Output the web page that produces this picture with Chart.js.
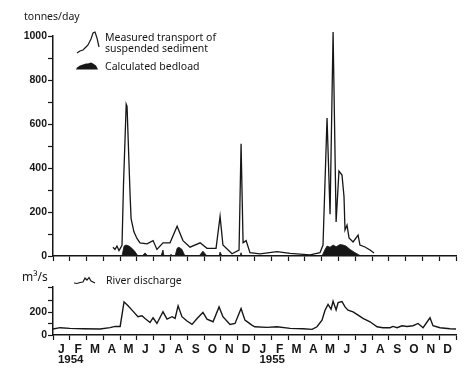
<!DOCTYPE html>
<html><head><meta charset="utf-8">
<script src="https://cdn.jsdelivr.net/npm/chart.js@4/dist/chart.umd.min.js"></script>
<style>
html,body{margin:0;padding:0;background:#fff;}
#wrap{position:relative;width:474px;height:376px;overflow:hidden;}
#c1{position:absolute;left:0;top:0;}
#c2{position:absolute;left:0;top:270px;}
</style></head><body>
<div id="wrap"><canvas id="c1" width="474" height="270"></canvas><canvas id="c2" width="474" height="106"></canvas></div>
<script>
// ---- tick labels / text ----
const monthLetters = ['J','F','M','A','M','J','J','A','S','O','N','D','J','F','M','A','M','J','J','A','S','O','N','D'];
const yearLabels = ['1954','1955'];
const yearStartMonths = [0, 12];
const topUnit = 'tonnes/day';
const bottomUnit = 'm³/s';
const sedimentLegend = ['Measured transport of', 'suspended sediment'];
const bedloadLegend = 'Calculated bedload';
const dischargeLegend = 'River discharge';

// ---- data (x = months since 1 Jan 1954) ----
const sedimentMonths = [3.57,3.69,3.81,3.93,4.05,4.11,4.2,4.36,4.41,4.59,4.65,4.82,5.0,5.18,5.6,5.96,6.19,6.55,6.97,7.39,7.74,8.16,8.76,9.17,9.71,9.95,10.12,10.66,11.08,11.2,11.32,11.5,11.73,12.33,13.34,14.12,15.31,15.9,16.08,16.32,16.5,16.68,16.86,17.03,17.21,17.33,17.39,17.51,17.63,17.87,18.17,18.28,18.58,18.88,19.12];
const sedimentValues = [40,30,45,25,40,50,330,690,680,280,170,110,80,60,55,70,30,60,60,135,70,40,60,35,35,180,50,10,27,510,60,70,15,10,20,12,5,15,50,627,190,1018,155,386,368,270,118,140,82,64,95,50,41,27,14];

const bedloadMonths = [4.11,4.23,4.35,4.53,4.7,4.88,5.06, 5.3,5.48,5.66, 6.43,6.55,6.61, 6.97,7.03,7.09,7.27,7.39,7.5,7.68,7.86, 8.7,8.93,9.17, 9.89,9.95,10.07, 11.14,11.2,11.26, 16.02,16.2,16.32,16.5,16.68,16.86,17.09,17.27,17.45,17.69,17.99,18.22,18.34];
const bedloadValues = [0,45,50,45,35,20,0, 0,14,0, 0,27,0, 0,8,0,0,35,40,30,0, 0,22,0, 0,18,0, 0,15,0, 0,30,45,40,50,42,52,50,45,30,15,5,0];

const dischargeMonths = [0,0.42,1.0,1.8,2.8,3.4,3.7,4.0,4.23,4.47,4.76,5.06,5.3,5.48,5.78,5.96,6.19,6.55,6.79,7.09,7.27,7.45,7.68,7.98,8.28,8.58,8.93,9.17,9.53,9.89,10.12,10.54,10.84,11.2,11.43,11.6,11.84,12.02,12.75,13.34,14.12,14.89,15.43,15.72,16.02,16.2,16.38,16.56,16.68,16.86,16.98,17.21,17.39,17.57,17.87,18.17,18.46,18.88,19.3,19.65,20.07,20.25,20.49,20.79,21.08,21.44,21.74,22.04,22.45,22.63,23.05,23.64,24.0];
const dischargeValues = [52,64,58,55,52,64,75,75,290,255,209,160,168,145,110,151,101,203,139,160,145,255,160,122,93,145,197,139,116,246,160,93,101,232,130,113,87,72,67,72,58,55,49,72,130,217,267,225,296,220,284,293,246,217,203,174,145,116,72,64,64,75,64,81,75,81,101,64,151,81,64,55,52];

const ink = '#161616';
const tickFont = {family:'"Liberation Sans", Arial, sans-serif', size:10.5, weight:'bold'};
const monthFont = {family:'"Liberation Sans", Arial, sans-serif', size:12, weight:'bold'};
const textFont = '10.5px "Noto Sans", sans-serif';

function pts(xs, ys){ return xs.map((x,i)=>({x:x, y:ys[i]})); }
function monthBoundaryTicks(s){ const t=[]; for(let i=0;i<=24;i++) t.push({value:i}); s.ticks=t; }
function monthHalfTicks(s){ const t=[]; for(let i=0;i<=48;i++) t.push({value:i/2}); s.ticks=t; }

const topDecor = {
  id:'topDecor',
  afterDraw(chart){
    const c = chart.ctx; c.save();
    c.fillStyle = ink; c.strokeStyle = ink;
    c.font = textFont; c.textAlign='left'; c.textBaseline='alphabetic';
    c.fillText(topUnit, 24, 20);
    c.fillText(sedimentLegend[0], 105, 41);
    c.fillText(sedimentLegend[1], 105, 51.5);
    c.fillText(bedloadLegend, 105, 69.5);
    const ox=77, oy=53;
    const lp=[[0,0],[3,-2],[6,-3],[9,-6],[11,-8],[14,-14],[16,-20],[18,-21],[20,-15],[22,-6]];
    c.lineWidth=1.2; c.beginPath();
    lp.forEach((p,i)=>{ if(i===0) c.moveTo(ox+p[0],oy+p[1]); else c.lineTo(ox+p[0],oy+p[1]); });
    c.stroke();
    const bx=76, by=69.5;
    const bp=[[0,0],[1,-2],[4,-4],[7,-5],[10,-6],[12,-6],[15,-7],[17,-6],[20,-4],[22,0]];
    c.beginPath();
    bp.forEach((p,i)=>{ if(i===0) c.moveTo(bx+p[0],by+p[1]); else c.lineTo(bx+p[0],by+p[1]); });
    c.closePath(); c.fill();
    c.restore();
  }
};

const bottomDecor = {
  id:'bottomDecor',
  afterDraw(chart){
    const c = chart.ctx; c.save();
    c.fillStyle = ink; c.strokeStyle = ink;
    c.font = '12px "Noto Sans", sans-serif'; c.textAlign='left'; c.textBaseline='alphabetic';
    c.fillText(bottomUnit, 22, 11);
    c.font = textFont;
    c.fillText(dischargeLegend, 106, 14);
    const ox=74, oy=13;
    const lp=[[0,0],[3,0.5],[6,-0.5],[9,-1],[11,-5],[13,-3],[15,-5.5],[17,-2],[19,-1],[21,0]];
    c.lineWidth=1.2; c.beginPath();
    lp.forEach((p,i)=>{ if(i===0) c.moveTo(ox+p[0],oy+p[1]); else c.lineTo(ox+p[0],oy+p[1]); });
    c.stroke();
    c.font = 'bold 11.5px "Liberation Sans", Arial, sans-serif';
    const xs = chart.scales.x;
    yearLabels.forEach((t,i)=>{ c.fillText(t, xs.getPixelForValue(yearStartMonths[i]+0.5)-3.5, 93); });
    c.restore();
  }
};

new Chart(document.getElementById('c1'), {
  type:'line',
  data:{datasets:[
    {label:'Measured transport of suspended sediment', data:pts(sedimentMonths, sedimentValues), borderColor:ink, borderWidth:1.3, pointRadius:0, tension:0, fill:false, clip:false},
    {label:'Calculated bedload', data:pts(bedloadMonths, bedloadValues), borderColor:ink, borderWidth:0.8, backgroundColor:ink, pointRadius:0, tension:0, fill:'origin'}
  ]},
  options:{
    responsive:false, animation:false, devicePixelRatio:1,
    layout:{padding:{top:36,right:18,left:0,bottom:0}},
    plugins:{legend:{display:false}, tooltip:{enabled:false}},
    scales:{
      x:{type:'linear', min:0, max:24, afterBuildTicks:monthBoundaryTicks,
         ticks:{callback:()=>'', autoSkip:false, maxRotation:0, minRotation:0, padding:0},
         grid:{drawOnChartArea:false, drawTicks:true, tickLength:5, color:ink, tickWidth:1.2},
         border:{color:ink, width:1.5},
         afterFit:s=>{ s.height=14; }},
      y:{type:'linear', min:0, max:1000,
         ticks:{stepSize:100, autoSkip:false, callback:v=> (v%200===0 ? String(v) : ''), font:tickFont, color:ink, padding:1},
         grid:{drawOnChartArea:false, drawTicks:true, tickLength:5, color:ink, tickWidth:1.2},
         border:{color:ink, width:1.5},
         afterFit:s=>{ s.width=53; }}
    }
  },
  plugins:[topDecor]
});

new Chart(document.getElementById('c2'), {
  type:'line',
  data:{datasets:[
    {label:'River discharge', data:pts(dischargeMonths, dischargeValues), borderColor:ink, borderWidth:1.4, pointRadius:0, tension:0, fill:false}
  ]},
  options:{
    responsive:false, animation:false, devicePixelRatio:1,
    layout:{padding:{top:17,right:18,left:0,bottom:0}},
    plugins:{legend:{display:false}, tooltip:{enabled:false}},
    scales:{
      x:{type:'linear', min:0, max:24, afterBuildTicks:monthHalfTicks,
         ticks:{autoSkip:false, maxRotation:0, minRotation:0, padding:2, font:monthFont, color:ink,
                callback:(v)=>{ const k=Math.floor(v); return (v-k)===0.5 ? monthLetters[k] : ''; }},
         grid:{drawOnChartArea:false, drawTicks:true, tickLength:5, tickWidth:1.2,
               color:(ctx)=> (ctx.tick && ctx.tick.value%1===0) ? ink : 'rgba(0,0,0,0)'},
         border:{color:ink, width:1.5},
         afterFit:s=>{ s.height=41; }},
      y:{type:'linear', min:0, max:420,
         ticks:{stepSize:100, autoSkip:false, callback:v=> ((v===0||v===200) ? String(v) : ''), font:tickFont, color:ink, padding:1},
         grid:{drawOnChartArea:false, drawTicks:true, tickLength:5, color:ink, tickWidth:1.2},
         border:{color:ink, width:1.5},
         afterFit:s=>{ s.width=53; }}
    }
  },
  plugins:[bottomDecor]
});
</script>
</body></html>
